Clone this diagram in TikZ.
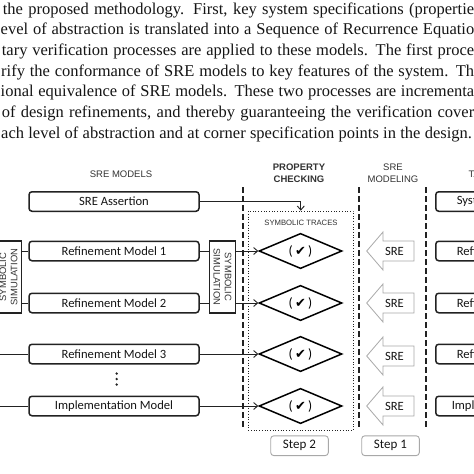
\documentclass[tikz,border=0pt]{standalone}
\usepackage{fontspec}
\setmainfont{Liberation Serif}
\newfontfamily\boxfont{Carlito}
\newfontfamily\headfont{Liberation Sans}
\newfontfamily\symfont{DejaVu Sans}
\usetikzlibrary{shapes.geometric}
\usetikzlibrary{arrows.meta}
\usetikzlibrary{positioning}

\definecolor{ink}{HTML}{222222}
\definecolor{txt}{HTML}{151515}
\definecolor{hdr}{HTML}{333333}
\definecolor{pale}{HTML}{A8A8A8}

\tikzset{
  modelbox/.style={draw=ink, line width=1.5pt, rounded corners=3pt, minimum width=170pt, minimum height=19.5pt,
    inner sep=0pt, font=\boxfont\fontsize{12.6}{14}\selectfont, text=txt},
  simbox/.style={draw=ink, line width=1.1pt, minimum width=72pt, minimum height=26.4pt, inner sep=0pt,
    align=center, font=\headfont\fontsize{9.4}{11.2}\selectfont, text=hdr},
  checkdia/.style={diamond, draw=black, line width=1.5pt, minimum width=83pt, minimum height=32pt, inner sep=0pt},
  link/.style={draw=ink, line width=0.9pt},
  tip/.style={-{Straight Barb[length=4pt,width=7pt,line width=0.9pt]}},
  lane/.style={draw=ink, line width=1.8pt, dash pattern=on 6pt off 3pt},
  header/.style={align=center, font=\headfont\fontsize{9.5}{12.5}\selectfont, text=hdr},
  stepbox/.style={draw=pale, line width=0.9pt, rounded corners=3pt, minimum width=57.6pt, minimum height=19.7pt,
    inner sep=0pt, font=\boxfont\fontsize{13}{15}\selectfont, text=txt},
  srearrow/.style={draw=pale, line width=0.8pt, fill=white},
}

\begin{document}
\begin{tikzpicture}[x=1pt,y=-1pt]
  \useasboundingbox (0,0) rectangle (474,474);
  \clip (0,0) rectangle (474,474);
  \fill[white] (0,0) rectangle (474,474);

  % paragraph above the figure
  \foreach \y/\x/\w/\t [count=\k] in {
      14/2.7/471.3/{the proposed methodology. First, key system specifications (propertie},
      34.7/0.5/473.5/{evel of abstraction is translated into a Sequence of Recurrence Equatio},
      55.4/1.7/472.3/{tary verification processes are applied to these models. The first proce},
      76.1/1/473/{rify the conformance of SRE models to key features of the system. Th},
      96.8/0.5/473.5/{ional equivalence of SRE models. These two processes are incrementa},
      117.5/1.7/472.3/{of design refinements, and thereby guaranteeing the verification cover},
      138.2/1/470.7/{ach level of abstraction and at corner specification points in the design.}} {
    \node[anchor=base west, inner sep=0pt, font=\fontsize{16.5}{20}\selectfont, text=txt] (line\k) at (\x,\y)
      {\makebox[\w pt][s]{\t}};
  }

  % column headers
  \node[header] (hmodels) at (121,174) {SRE MODELS};
  \node[header, font=\headfont\bfseries\fontsize{9.5}{12.5}\selectfont] (hcheck) at (299,173) {PROPERTY\\CHECKING};
  \node[header] (hsre) at (393,173) {SRE\\MODELING};
  \node[header, anchor=west] (htarget) at (465,174) {TARGET MODELS};

  % lanes
  \foreach \x in {242.7,359.3,425.7}
    \draw[lane] (\x,187) -- (\x,427);

  % SRE models
  \node[modelbox] (assert) at (114,201.5) {SRE Assertion};
  \node[modelbox] (ref1) at (114,251) {Refinement Model 1};
  \node[modelbox] (ref2) at (114,303) {Refinement Model 2};
  \node[modelbox] (ref3) at (114,354) {Refinement Model 3};
  \node[modelbox] (impl) at (114,406) {Implementation Model};
  \foreach \y in {373.5,379,384.5}
    \fill[ink] (116.7,\y) circle (1.3pt);

  % symbolic simulation
  \node[simbox, rotate=90] (simL) at (8.5,277) {SYMBOLIC\\SIMULATION};
  \node[simbox, rotate=-90] (simR) at (222.5,277) {SYMBOLIC\\SIMULATION};

  % property checking
  \node[draw=ink, dotted, line width=0.7pt, minimum width=105pt, minimum height=219pt, inner sep=0pt] (traces) at (300.8,320.5) {};
  \node[font=\headfont\fontsize{7.7}{9}\selectfont, text=hdr] (trlabel) at (301,222.7) {SYMBOLIC TRACES};
  \foreach \k/\y in {1/251,2/303,3/354,4/406}
    \node[checkdia] (chk\k) at (300.5,\y)
      {\boxfont\fontsize{13.5}{15}\selectfont(\,{\symfont\fontsize{13}{15}\selectfont ✔}\,)};

  % SRE modeling
  \foreach \k/\y in {1/251,2/303,3/356,4/406} {
    \draw[srearrow] (366.7,\y) -- (383,\y-19) -- (383,\y-10) -- (414,\y-10) -- (414,\y+10)
      -- (383,\y+10) -- (383,\y+19) -- cycle;
    \node[font=\boxfont\fontsize{12.6}{14}\selectfont, text=txt] (sre\k) at (394.5,\y) {SRE};
  }

  % target models
  \foreach \k/\y/\t in {0/201.5/{System Specification}, 1/251/{Refinement Model 1}, 2/303/{Refinement Model 2},
      3/354/{Refinement Model 3}, 4/406/{\hspace*{-5pt}Implementation Model}}
    \node[modelbox, anchor=west, text width=149pt, align=left, inner xsep=21pt] (tgt\k) at (435,\y) {\t};

  % connections
  \draw[link, tip] (assert.east) -| (traces.north);
  \foreach \k in {1,2} {
    \draw[link] (simL.south |- ref\k.west) -- (ref\k.west);
    \draw[link] (ref\k.east) -- (ref\k.east -| simR.south);
    \draw[link, tip] (ref\k.east -| simR.north) -- (chk\k.west);
  }
  \coordinate (in3) at (0,354);
  \coordinate (in4) at (0,406);
  \draw[link] (in3) -- (ref3.west);
  \draw[link] (in4) -- (impl.west);
  \draw[link, tip] (ref3.east) -- (chk3.west);
  \draw[link, tip] (impl.east) -- (chk4.west);

  % steps
  \node[stepbox] (step2) at (299.5,445.7) {Step 2};
  \node[stepbox] (step1) at (390.5,445.7) {Step 1};
\end{tikzpicture}
\end{document}
